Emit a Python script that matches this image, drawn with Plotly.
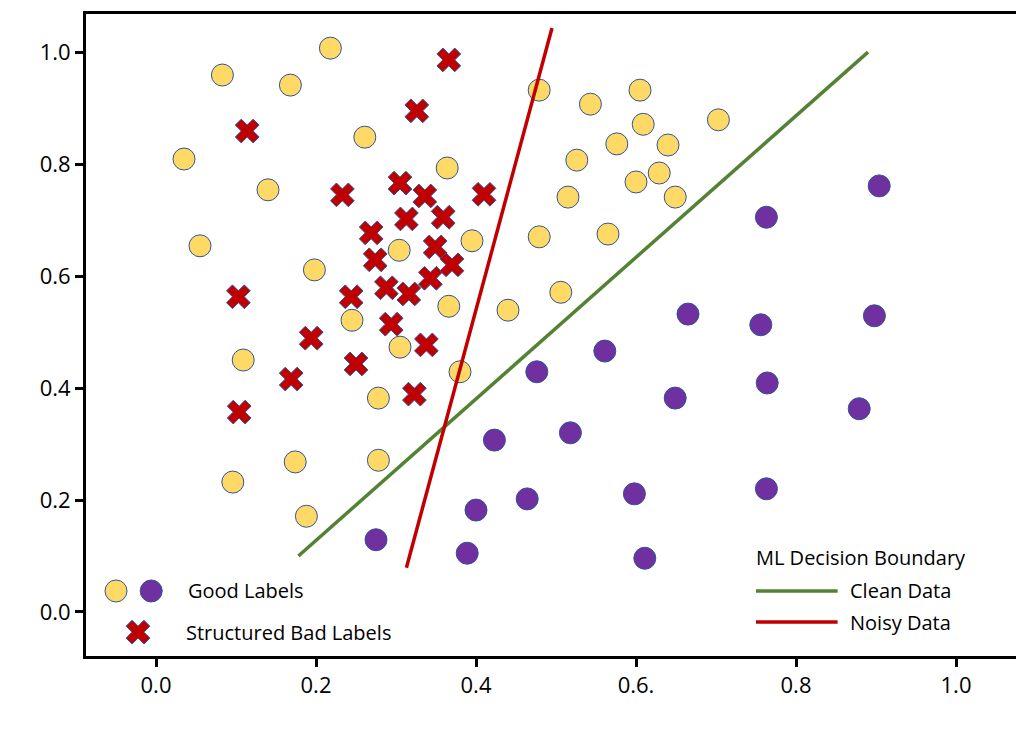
import plotly.graph_objects as go

good_a_x = [0.035, 0.083, 0.168, 0.218, 0.055, 0.14, 0.261, 0.198, 0.109, 0.096, 0.174, 0.188, 0.245,
            0.278, 0.278, 0.304, 0.305, 0.364, 0.366, 0.395, 0.38, 0.44, 0.479, 0.543, 0.515, 0.479,
            0.526, 0.576, 0.605, 0.609, 0.60, 0.629, 0.64, 0.649, 0.565, 0.506, 0.703]
good_a_y = [0.809, 0.959, 0.941, 1.007, 0.654, 0.754, 0.848, 0.611, 0.45, 0.232, 0.268, 0.171, 0.521,
            0.382, 0.271, 0.646, 0.473, 0.793, 0.546, 0.663, 0.429, 0.539, 0.932, 0.907, 0.741, 0.67,
            0.807, 0.836, 0.932, 0.871, 0.768, 0.784, 0.834, 0.741, 0.675, 0.571, 0.879]
good_b_x = [0.275, 0.389, 0.40, 0.423, 0.464, 0.476, 0.518, 0.561, 0.598, 0.611, 0.649, 0.665, 0.756,
            0.763, 0.764, 0.763, 0.879, 0.898, 0.904]
good_b_y = [0.129, 0.105, 0.182, 0.307, 0.202, 0.429, 0.32, 0.466, 0.211, 0.096, 0.382, 0.532, 0.513,
            0.705, 0.409, 0.22, 0.363, 0.529, 0.761]
bad_x = [0.366, 0.114, 0.326, 0.233, 0.305, 0.336, 0.41, 0.313, 0.359, 0.269, 0.274, 0.349, 0.343,
         0.37, 0.103, 0.244, 0.288, 0.316, 0.194, 0.294, 0.338, 0.25, 0.169, 0.323, 0.104]
bad_y = [0.986, 0.859, 0.895, 0.745, 0.766, 0.743, 0.746, 0.702, 0.705, 0.677, 0.629, 0.652, 0.596,
         0.62, 0.563, 0.563, 0.579, 0.568, 0.489, 0.514, 0.477, 0.443, 0.416, 0.389, 0.357]
clean_x = [0.178, 0.89]
clean_y = [0.10, 1.0]
noisy_x = [0.313, 0.495]
noisy_y = [0.079, 1.043]
tick_vals = [0.0, 0.2, 0.4, 0.6, 0.8, 1.0]
x_tick_text = ["0.0", "0.2", "0.4", "0.6.", "0.8", "1.0"]
y_tick_text = ["0.0", "0.2", "0.4", "0.6", "0.8", "1.0"]

YELLOW = "#FFD966"
PURPLE = "#7030A0"
RED = "#C00000"
OUTLINE = "#2F5597"
FONT = "Open Sans, Liberation Sans, sans-serif"

circ = dict(size=22, line=dict(color=OUTLINE, width=1))
xmark = dict(symbol="x", size=21, color=RED, line=dict(color=OUTLINE, width=1))

fig = go.Figure()
fig.add_trace(go.Scatter(x=good_a_x, y=good_a_y, mode="markers", marker=dict(color=YELLOW, **circ)))
fig.add_trace(go.Scatter(x=good_b_x, y=good_b_y, mode="markers", marker=dict(color=PURPLE, **circ)))
fig.add_trace(go.Scatter(x=bad_x, y=bad_y, mode="markers", marker=xmark))
fig.add_trace(go.Scatter(x=clean_x, y=clean_y, mode="lines", line=dict(color="#548235", width=3.5)))
fig.add_trace(go.Scatter(x=noisy_x, y=noisy_y, mode="lines", line=dict(color=RED, width=3.5)))

# legend glyphs drawn inside the plot
fig.add_trace(go.Scatter(x=[-0.05], y=[0.0375], mode="markers", marker=dict(color=YELLOW, **circ)))
fig.add_trace(go.Scatter(x=[-0.006], y=[0.0375], mode="markers", marker=dict(color=PURPLE, **circ)))
fig.add_trace(go.Scatter(x=[-0.0225], y=[-0.036], mode="markers", marker=xmark))
fig.add_trace(go.Scatter(x=[0.75, 0.852], y=[0.0375, 0.0375], mode="lines", line=dict(color="#548235", width=3.5)))
fig.add_trace(go.Scatter(x=[0.75, 0.852], y=[-0.018, -0.018], mode="lines", line=dict(color=RED, width=3.5)))

labels = [("Good Labels", 0.037, 0.0375), ("Structured Bad Labels", 0.035, -0.036),
          ("ML Decision Boundary", 0.748, 0.098), ("Clean Data", 0.865, 0.0375), ("Noisy Data", 0.865, -0.018)]
for txt, lx, ly in labels:
    fig.add_annotation(x=lx, y=ly, text=txt, showarrow=False, xanchor="left",
                       font=dict(size=20, color="black", family=FONT))

axis = dict(showline=True, linecolor="black", linewidth=3, mirror=True, ticks="outside",
            ticklen=8, tickwidth=3, tickcolor="black", showgrid=False, zeroline=False,
            automargin=False, tickfont=dict(size=22, color="black", family=FONT))
fig.update_xaxes(range=[-0.0875, 1.08], tickvals=tick_vals, ticktext=x_tick_text, **axis)
fig.update_yaxes(range=[-0.0786, 1.068], tickvals=tick_vals, ticktext=y_tick_text, **axis)
fig.update_layout(width=1024, height=755, showlegend=False, plot_bgcolor="white", paper_bgcolor="white",
                  margin=dict(l=78, r=12, t=6, b=107))
fig.write_html("out.html")
